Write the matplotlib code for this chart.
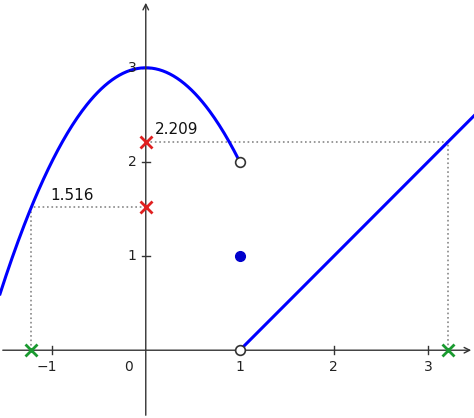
import numpy as np
import matplotlib.pyplot as plt

xticks = [-1, 0, 1, 2, 3]
yticks = [1, 2, 3]
x_left, x_right = -1.55, 3.49
y_bot, y_top = -0.72, 3.72
break_x = 1.0
mid_point = (1.0, 1.0)
open_pts = [(1.0, 2.0), (1.0, 0.0)]
red_vals = [1.516, 2.209]
green_x = [-1.218, 3.209]

fig = plt.figure(figsize=(4.74, 4.18), dpi=100)
ax = fig.add_axes([0, 0, 1, 1])
ax.set_xlim(x_left, x_right)
ax.set_ylim(y_bot, y_top)
ax.axis('off')

# axes with arrows
ax.annotate('', xy=(x_right, 0), xytext=(x_left, 0),
            arrowprops=dict(arrowstyle='->', color='#333', lw=1))
ax.annotate('', xy=(0, y_top), xytext=(0, y_bot),
            arrowprops=dict(arrowstyle='->', color='#333', lw=1))
for t in xticks:
    if t != 0:
        ax.plot([t, t], [-0.04, 0.04], color='#333', lw=1)
        ax.text(t - 0.05 if t < 0 else t, -0.1, str(t).replace('-', '−'),
                ha='center', va='top', fontsize=10, color='#222')
ax.text(-0.18, -0.1, '0', ha='center', va='top', fontsize=10, color='#222')
for t in yticks:
    ax.plot([-0.04, 0.04], [t, t], color='#333', lw=1)
    ax.text(-0.1, t, str(t), ha='right', va='center', fontsize=10, color='#222')

# dotted guides
g = '#888'
ax.plot([green_x[0], green_x[0], 0], [0, red_vals[0], red_vals[0]], ls=':', color=g, lw=1.2)
ax.plot([0, green_x[1], green_x[1]], [red_vals[1], red_vals[1], 0], ls=':', color=g, lw=1.2)

# function
xa = np.linspace(x_left, break_x, 200)
ax.plot(xa, 3 - xa**2, color='#0000ff', lw=2.2)
xb = np.linspace(break_x, x_right, 50)
ax.plot(xb, xb - 1, color='#0000ff', lw=2.2)

ax.plot(*mid_point, 'o', color='#0000cc', ms=7, zorder=5)
for p in open_pts:
    ax.plot(*p, 'o', mfc='white', mec='#333', mew=1.2, ms=7, zorder=5)

for v in red_vals:
    ax.plot(0, v, 'x', color='#e02020', ms=9, mew=2, zorder=6)
for v in green_x:
    ax.plot(v, 0, 'x', color='#1a9a30', ms=9, mew=2, zorder=6)

ax.text(-1.02, 1.6, '1.516', fontsize=11, color='#111')
ax.text(0.1, 2.3, '2.209', fontsize=11, color='#111')

fig.savefig('out.png', dpi=100)
